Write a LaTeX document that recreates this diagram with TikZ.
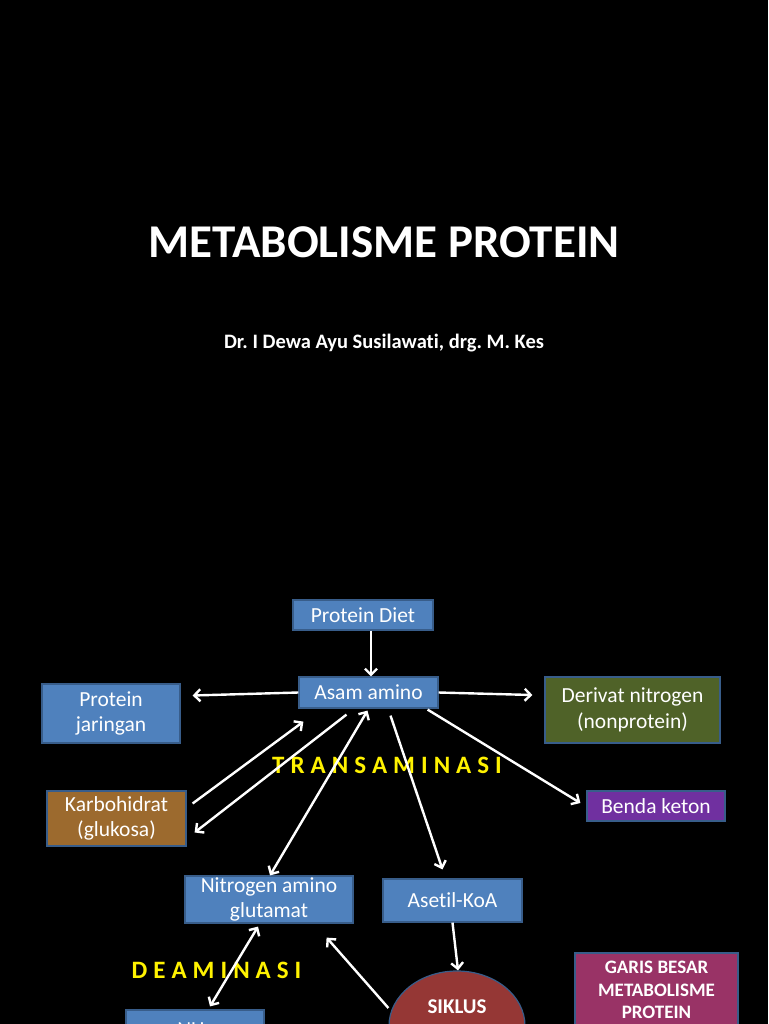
\documentclass[tikz,border=0pt]{standalone}
\usepackage{fontspec}
\setmainfont{Carlito}[Ligatures={TeX,NoCommon}]
\usepackage{tikz}
\usetikzlibrary{arrows.meta, shapes.geometric}
\usepackage{xcolor}
\definecolor{boxblue}{HTML}{4F81BD}
\definecolor{boxline}{HTML}{385D8A}
\definecolor{olive}{HTML}{4F6228}
\definecolor{brown}{HTML}{9C6A2E}
\definecolor{purple}{HTML}{7030A0}
\definecolor{siklusred}{HTML}{953735}
\definecolor{garispink}{HTML}{993366}
\newcommand\lsp{\hspace{6pt}}
\frenchspacing

\begin{document}
\begin{tikzpicture}[x=1pt, y=-1pt,
    frag/.style={draw=boxline, line width=1.2pt, fill=boxblue, text=white,
                 font=\fontsize{21.5}{25.5}\selectfont, align=center, inner sep=0pt},
    olivebox/.style={frag, fill=olive},
    brownbox/.style={frag, fill=brown},
    purplebox/.style={frag, fill=purple},
    pinkbox/.style={frag, fill=garispink},
    siklus/.style={ellipse, draw=boxline, line width=1.2pt, fill=siklusred, inner sep=0pt},
    boxtext/.style={text=white, align=center, font=\bfseries\fontsize{19}{22.5}\selectfont},
    stage/.style={text=yellow, font=\bfseries\fontsize{25}{30}\selectfont},
    flow/.style={-{Straight Barb[length=6pt, width=12pt]}, white, line width=2.4pt},
    both/.style={{Straight Barb[length=6pt, width=12pt]}-{Straight Barb[length=6pt, width=12pt]}, white, line width=2.4pt}]
    \fill[black] (0,0) rectangle (768,1024);
    \clip (0,0) rectangle (768,1024);

    \node[text=white, font=\bfseries\fontsize{47}{54}\selectfont] (title) at (384,242) {METABOLISME PROTEIN};
    \node[text=white, font=\bfseries\fontsize{20.5}{24}\selectfont] (author) at (384,343) {Dr. I Dewa Ayu Susilawati, drg. M. Kes};

    \node[frag, minimum width=140, minimum height=30] (diet) at (363,615) {Protein Diet};
    \node[frag, minimum width=139, minimum height=31] (asam) at (368.5,692.5) {Asam amino};
    \node[frag, minimum width=138, minimum height=59] (jaringan) at (111,713.5) {Protein\\jaringan};
    \node[olivebox, minimum width=175, minimum height=66] (derivat) at (632.5,710) {Derivat nitrogen\\(nonprotein)};
    \node[brownbox, minimum width=139, minimum height=55] (karbo) at (116.5,818.5) {Karbohidrat\\(glukosa)};
    \node[purplebox, minimum width=138, minimum height=30] (keton) at (656,806) {Benda keton};
    \node[frag, minimum width=168, minimum height=47] (glutamat) at (269,899.5) {Nitrogen amino\\glutamat};
    \node[frag, minimum width=139, minimum height=43] (asetil) at (452.5,900.5) {Asetil-KoA};
    \node[frag, minimum width=138, minimum height=50] (nh) at (195,1035) {};
    \node[text=white, font=\fontsize{21.5}{25.5}\selectfont] (nhtext) at (195,1031) {NH\textsubscript{3}};
    \node[siklus, minimum width=136, minimum height=110] (krebs) at (457,1026) {};
    \node[boxtext, font=\bfseries\fontsize{21}{25}\selectfont] (krebstext) at (457,1007) {SIKLUS};
    \node[pinkbox, minimum width=163, minimum height=90] (garis) at (656.5,998) {};
    \node[boxtext] (garistext) at (656.5,990) {GARIS BESAR\\METABOLISME\\PROTEIN};

    \node[stage] (trans) at (387,765) {T\lsp R\lsp A\lsp N\lsp S\lsp A\lsp M\lsp I\lsp N\lsp A\lsp S\lsp I};
    \node[stage] (deam) at (216.5,970) {D\lsp E\lsp A\lsp M\lsp I\lsp N\lsp A\lsp S\lsp I};

    \draw[flow] ([xshift=8pt]diet.south) -- ([xshift=2.5pt]asam.north);
    \draw[flow] (asam.west) -- ([xshift=12pt, yshift=18pt]jaringan.east);
    \draw[flow] (asam.east) -- ([xshift=-12pt, yshift=15pt]derivat.west);
    \draw[flow] ([xshift=6pt, yshift=15pt]karbo.east) -- ([xshift=5pt, yshift=-13pt]asam.south west);
    \draw[flow] ([xshift=-22pt, yshift=-6pt]asam.south) -- ([xshift=8pt, yshift=-14pt]karbo.east);
    \draw[both] ([xshift=-1pt, yshift=-2pt]asam.south) -- ([xshift=1pt]glutamat.north);
    \draw[flow] ([xshift=22pt, yshift=-7pt]asam.south) -- ([xshift=-10pt, yshift=9pt]asetil.north);
    \draw[flow] ([xshift=-11pt, yshift=-1pt]asam.south east) -- ([xshift=-6pt, yshift=3pt]keton.west);
    \draw[flow] (asetil.south) -- ([xshift=1pt]krebs.north);
    \draw[both] ([xshift=-11pt, yshift=-3pt]glutamat.south) -- ([xshift=15pt, yshift=3pt]nh.north);
    \draw[flow] ([yshift=18pt]krebs.west) -- ([xshift=-27pt, yshift=-14pt]glutamat.south east);
\end{tikzpicture}
\end{document}
